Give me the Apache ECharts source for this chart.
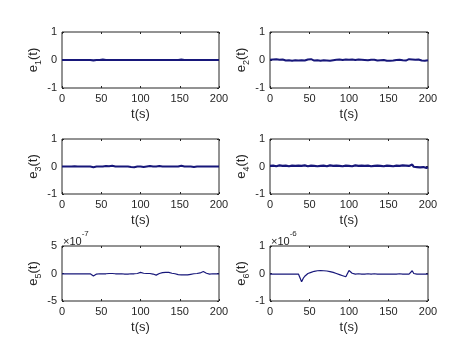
<!DOCTYPE html>
<html><head><meta charset="utf-8">
<script src="https://cdn.jsdelivr.net/npm/echarts@6/dist/echarts.min.js"></script>
<style>html,body{margin:0;padding:0;background:#fff}#c{width:474px;height:355px}</style>
</head><body><div id="c"></div>
<script>
// sample times (s)
const t = [
  0,2,4,6,8,10,12,14,16,18,
  20,22,24,26,28,30,32,34,36,38,
  40,42,44,46,48,50,52,54,56,58,
  60,62,64,66,68,70,72,74,76,78,
  80,82,84,86,88,90,92,94,96,98,
  100,102,104,106,108,110,112,114,116,118,
  120,122,124,126,128,130,132,134,136,138,
  140,142,144,146,148,150,152,154,156,158,
  160,162,164,166,168,170,172,174,176,178,
  180,182,184,186,188,190,192,194,196,198,
  200];
const xTicks = [0, 50, 100, 150, 200];

const e1 = [
  0,0,0,0,0,0,0,0,0,0,
  0,0,0,0,0,0,0,0,0,0,
  -0.01,0,0,0,0,0,0.01,0,0,0,
  0,0,0,0,0,0,0,0,0,0,
  0,0,0,0,0,0,0,0,0,0,
  0,0,0,0,0,0,0,0,0,0,
  0,0,0,0,0,0,0,0,0,0,
  0,0,0,0,0,0,0.01,0,0,0,
  0,0,0,0,0,0,0,0,0,-0.01,
  0,0,0,0,0,0,0,0,0,0,
  0];
const e2 = [
  0.01,-0.02,0.02,-0.01,0.03,-0.02,0.01,-0.03,0.02,0.00,
  -0.02,0.02,-0.01,0.01,-0.03,0.02,-0.01,0.02,-0.02,0.01,
  -0.01,0.03,-0.02,0.01,0.02,-0.01,0.03,0.00,-0.02,0.02,
  -0.01,0.01,-0.03,0.02,-0.01,0.00,-0.02,0.01,-0.03,0.02,
  -0.01,-0.02,0.01,-0.03,0.02,-0.02,0.00,-0.01,0.02,-0.02,
  0.01,-0.02,0.02,-0.01,0.00,-0.02,0.02,0.03,0.01,0.03,
  0.00,0.02,-0.01,0.03,0.01,-0.02,0.01,-0.03,-0.02,-0.03,
  -0.01,-0.03,0.00,-0.02,-0.03,-0.01,-0.03,0.01,-0.02,-0.03,
  0.00,-0.02,0.01,-0.03,-0.01,0.02,-0.02,0.01,0.03,-0.01,
  0.02,-0.02,0.01,-0.01,0.02,0.00,-0.02,0.01,-0.03,0.00,
  -0.01];
const e3 = [
  0,0,0,0,0,0.02,0,0,0.01,0,
  0,0,0,0,0,0,0,0,0,0,
  -0.03,-0.02,0,0,0,0,0,0.03,0.02,0.03,
  0.01,0.02,0.03,0.01,0,0,0,0,0,0,
  0,0.02,0,0,-0.02,0.01,-0.03,0.02,0,-0.02,
  0,0.02,-0.02,0,0,0,0.02,0,0,-0.02,
  0,0,0.02,0,0,0,0,0.03,0,0,
  0,0,0,0,0,0,0.03,-0.02,0,0,
  0,0.02,0,0,-0.02,0,0,0.02,0,0,
  0,0,0,0,0,0,0,0,0,0,
  0];
const e4 = [
  0.02,-0.03,0.03,-0.04,0.01,-0.02,0.04,-0.03,0.02,-0.01,
  0.03,-0.04,0.01,-0.02,0.03,-0.03,0.02,-0.04,0.03,-0.01,
  0.02,-0.03,0.04,-0.02,0.01,-0.04,0.03,-0.02,0.02,-0.03,
  0.01,-0.04,0.02,-0.01,0.03,-0.03,0.01,-0.02,0.04,-0.03,
  0.02,-0.01,0.03,-0.04,0.02,-0.02,0.01,-0.03,0.03,-0.02,
  0.02,-0.04,0.01,-0.03,0.04,-0.02,0.02,-0.01,0.03,-0.04,
  0.02,-0.02,0.03,-0.03,0.01,-0.04,0.02,-0.02,0.03,-0.01,
  0.02,-0.03,0.01,-0.04,0.03,-0.02,0.02,-0.03,0.01,-0.02,
  0.03,-0.03,0.02,-0.01,0.04,-0.02,0.03,-0.02,0.02,0.05,
  0.07,-0.01,0.03,-0.02,0.02,-0.03,-0.04,-0.02,0.01,-0.05,
  -0.03];
// e5 in units of 1e-7
const e5 = [
  -0.05,-0.05,-0.05,-0.05,-0.05,-0.05,-0.05,-0.05,-0.05,-0.05,
  -0.05,-0.05,-0.05,-0.05,-0.05,-0.05,-0.05,-0.05,-0.05,-0.1,
  -0.45,-0.25,-0.1,-0.05,-0.05,-0.1,-0.05,-0.05,-0.05,-0.05,
  0.0,0.15,0.0,-0.05,-0.05,-0.05,-0.05,-0.05,-0.05,-0.05,
  -0.1,-0.2,-0.1,-0.05,-0.05,-0.05,-0.05,-0.05,0.0,0.1,
  0.2,0.1,0.05,0.0,0.0,0.0,0.0,-0.05,-0.1,-0.2,
  -0.3,-0.1,0.0,0.1,0.15,0.2,0.2,0.2,0.2,0.15,
  0.05,0.0,-0.05,-0.15,-0.2,-0.25,-0.25,-0.25,-0.25,-0.25,
  -0.25,-0.2,-0.15,-0.1,-0.05,-0.05,0.0,0.05,0.1,0.2,
  0.35,0.2,0.05,-0.05,-0.1,-0.1,-0.05,-0.05,-0.05,-0.05,
  -0.05];
// e6 in units of 1e-6
const e6 = [
  -0.02,-0.02,-0.02,-0.02,-0.02,-0.02,-0.02,-0.02,-0.02,-0.02,
  -0.02,-0.02,-0.02,-0.02,-0.02,-0.02,-0.02,-0.02,-0.02,-0.02,
  -0.3,-0.18,-0.1,-0.04,0.0,0.02,0.04,0.06,0.08,0.09,
  0.1,0.11,0.11,0.11,0.1,0.1,0.09,0.08,0.07,0.05,
  0.04,0.02,0.0,-0.02,-0.04,-0.06,-0.08,-0.1,-0.12,-0.13,
  0.11,0.05,0.01,-0.01,-0.02,-0.02,-0.01,-0.02,-0.02,-0.01,
  -0.02,-0.02,-0.01,-0.02,-0.02,-0.02,-0.01,-0.02,-0.02,-0.02,
  -0.02,-0.01,-0.02,-0.02,-0.02,-0.01,-0.02,-0.02,-0.02,-0.02,
  -0.02,-0.02,-0.01,-0.02,-0.02,-0.02,-0.02,-0.01,-0.02,0.0,
  0.1,0.0,-0.02,-0.02,-0.02,-0.02,-0.02,-0.02,-0.02,-0.02,
  -0.02];

const panels = [
  {v: e1, sub: '1', min: -1, max: 1, step: 1, exp: null, lw: 2.2},
  {v: e2, sub: '2', min: -1, max: 1, step: 1, exp: null, lw: 2},
  {v: e3, sub: '3', min: -1, max: 1, step: 1, exp: null, lw: 2},
  {v: e4, sub: '4', min: -1, max: 1, step: 1, exp: null, lw: 2.2},
  {v: e5, sub: '5', min: -5, max: 5, step: 5, exp: '-7', lw: 1.2},
  {v: e6, sub: '6', min: -1, max: 1, step: 1, exp: '-6', lw: 1.2}
];
const boxes = [
  {left: 62, top: 32, width: 157, height: 56},
  {left: 270, top: 32, width: 158, height: 56},
  {left: 62, top: 139, width: 157, height: 55},
  {left: 270, top: 139, width: 158, height: 55},
  {left: 62, top: 246, width: 157, height: 55},
  {left: 270, top: 246, width: 158, height: 55}
];

const FONT = '"Liberation Sans", Arial, Helvetica, sans-serif';
const AX = '#262626';
const LINE = '#17177a';

const grid = [], xAxis = [], yAxis = [], series = [], graphic = [];
panels.forEach((p, i) => {
  const b = boxes[i];
  grid.push({left: b.left, top: b.top, width: b.width, height: b.height,
    show: true, borderColor: AX, borderWidth: 1, backgroundColor: '#fff'});
  const common = {gridIndex: i, type: 'value', min: 0, max: 200, interval: 50,
    axisLine: {show: false, onZero: false}, splitLine: {show: false},
    axisTick: {show: true, inside: true, length: 2, lineStyle: {color: AX}}};
  xAxis.push(Object.assign({}, common, {position: 'bottom',
    axisLabel: {show: true, color: AX, fontSize: 11, fontFamily: FONT, margin: 5,
      customValues: xTicks},
    name: 't(s)', nameLocation: 'middle', nameGap: 20,
    nameTextStyle: {color: AX, fontSize: 13, fontFamily: FONT}}));
  xAxis.push(Object.assign({}, common, {position: 'top', axisLabel: {show: false}}));
  const yc = {gridIndex: i, type: 'value', min: p.min, max: p.max, interval: p.step,
    axisLine: {show: false, onZero: false}, splitLine: {show: false},
    axisTick: {show: true, inside: true, length: 2, lineStyle: {color: AX}}};
  yAxis.push(Object.assign({}, yc, {position: 'left',
    axisLabel: {show: true, color: AX, fontSize: 11, fontFamily: FONT, margin: 5},
    name: '{e|e}{s|' + p.sub + '}{e|(t)}', nameLocation: 'middle', nameRotate: 90, nameGap: 19,
    nameTextStyle: {color: AX, fontFamily: FONT,
      rich: {e: {fontSize: 13, lineHeight: 13, color: AX, fontFamily: FONT},
             s: {fontSize: 9, lineHeight: 20, verticalAlign: 'bottom', color: AX, fontFamily: FONT}}}}));
  yAxis.push(Object.assign({}, yc, {position: 'right', axisLabel: {show: false}}));
  series.push({type: 'line', xAxisIndex: 2 * i, yAxisIndex: 2 * i, showSymbol: false,
    symbol: 'none', animation: false,
    lineStyle: {color: LINE, width: p.lw}, data: t.map((x, k) => [x, p.v[k]])});
  if (p.exp) {
    graphic.push({type: 'text', left: b.left + 1, top: b.top - 16,
      style: {text: '{a|×10}{b|' + p.exp + '}', fill: AX,
        rich: {a: {fontSize: 11, lineHeight: 17, verticalAlign: 'bottom', fontFamily: FONT, fill: AX, color: AX},
               b: {fontSize: 8, lineHeight: 17, verticalAlign: 'top', fontFamily: FONT, fill: AX, color: AX}}}});
  }
});

const chart = echarts.init(document.getElementById('c'), null, {renderer: 'canvas'});
chart.setOption({backgroundColor: '#fff', animation: false, grid, xAxis, yAxis, series, graphic});
</script></body></html>
